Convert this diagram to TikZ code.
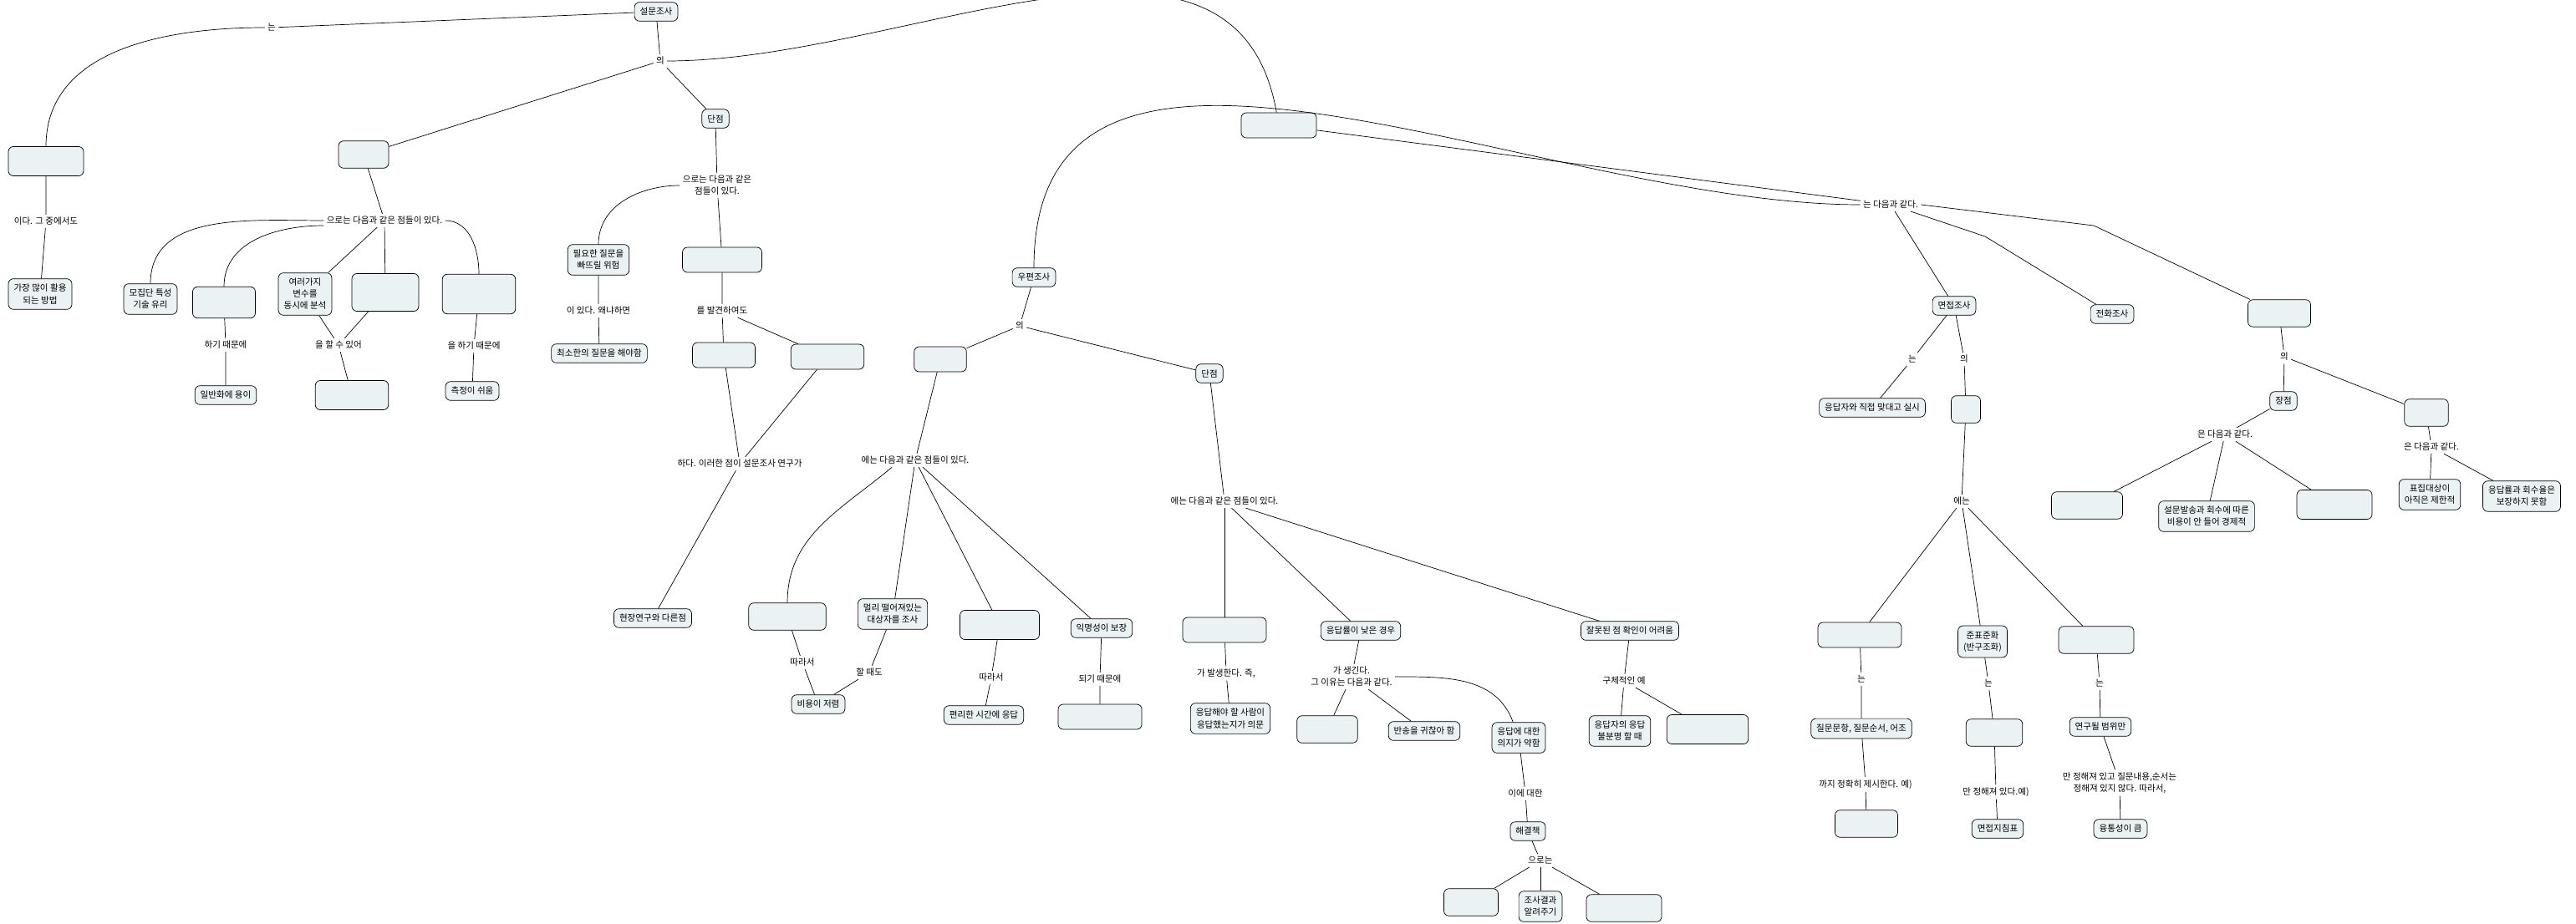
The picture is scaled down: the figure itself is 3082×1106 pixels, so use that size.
\documentclass[tikz,border=0pt]{standalone}
\usepackage{fontspec}
\setmainfont{Noto Sans CJK KR}
\usepackage{xcolor}
\usepackage{tikz}
\definecolor{boxfill}{HTML}{EBF2F4}

\tikzset{
  box/.style={draw, rounded corners=1.2mm, fill=boxfill, align=center, inner sep=1.3mm, font=\fontsize{6}{8}\selectfont},
  lbl/.style={align=center, inner sep=0.6mm, font=\fontsize{6}{8}\selectfont},
  link/.style={draw, thin}
}

\begin{document}
\begin{tikzpicture}[x=0.2mm, y=-0.2mm]
        \useasboundingbox (0,0) rectangle (3082,1106);

        % top level
        \node[box] (root) at (785,14) {설문조사};
        \node[lbl] (is) at (325,33) {는};
        \node[lbl] (of) at (790,73) {의};
        \node[box, minimum width=18mm, minimum height=7mm] (kind) at (55,193) {};
        \node[lbl] (kind-l) at (55,265) {이다. 그 중에서도};
        \node[box] (most) at (48,352) {가장 많이 활용\\되는 방법};
        \draw[link] (root) -- (is) to[out=180, in=90] (kind);
        \draw[link] (kind) -- (kind-l) -- (most);
        \draw[link] (root) -- (of);

        % pros
        \node[box, minimum width=12mm, minimum height=6.5mm] (pro) at (435,185) {};
        \node[lbl] (pro-l) at (460,264) {으로는 다음과 같은 점들이 있다.};
        \node[box] (pop) at (180,358) {모집단 특성\\기술 유리};
        \node[box, minimum width=15mm, minimum height=7.5mm] (pro2) at (268,362) {};
        \node[box] (vars) at (365,352) {여러가지\\변수를\\동시에 분석};
        \node[box, minimum width=16mm, minimum height=9mm] (pro4) at (461,350) {};
        \node[box, minimum width=17.5mm, minimum height=9.5mm] (pro5) at (573,352) {};
        \node[lbl] (pro2-l) at (270,413) {하기 때문에};
        \node[box] (gen) at (270,473) {일반화에 용이};
        \node[lbl] (vars-l) at (405,413) {을 할 수 있어};
        \node[box, minimum width=17.5mm, minimum height=7mm] (pro6) at (421,473) {};
        \node[lbl] (pro5-l) at (567,414) {을 하기 때문에};
        \node[box] (easy) at (565,468) {측정이 쉬움};
        \draw[link] (of) -- (pro) -- (pro-l);
        \draw[link] (pro-l.west) to[out=180, in=90] (pop);
        \draw[link] (pro-l.west) ++(0,6) to[out=180, in=90] (pro2);
        \draw[link] (pro-l) -- (vars);
        \draw[link] (pro-l) -- (pro4);
        \draw[link] (pro-l.east) to[out=0, in=90] (pro5);
        \draw[link] (pro2) -- (pro2-l) -- (gen);
        \draw[link] (vars) -- (vars-l);
        \draw[link] (pro4) -- (vars-l) -- (pro6);
        \draw[link] (pro5) -- (pro5-l) -- (easy);

        % cons
        \node[box] (con) at (856,142) {단점};
        \node[lbl] (con-l) at (858,222) {으로는 다음과 같은\\점들이 있다.};
        \node[box] (miss) at (716,311) {필요한 질문을\\빠뜨릴 위험};
        \node[box, minimum width=19mm, minimum height=6mm] (con2) at (864,311) {};
        \node[lbl] (miss-l) at (716,372) {이 있다. 왜냐하면};
        \node[box] (min) at (717,423) {최소한의 질문을 해야함};
        \node[lbl] (con2-l) at (864,372) {를 발견하여도};
        \node[box, minimum width=15mm, minimum height=6mm] (con3) at (866,425) {};
        \node[box, minimum width=17.5mm, minimum height=6mm] (con4) at (990,427) {};
        \node[lbl] (diff-l) at (885,555) {하다. 이러한 점이 설문조사 연구가};
        \node[box] (diff) at (781,740) {현장연구와 다른점};
        \draw[link] (of) -- (con) -- (con-l);
        \draw[link] (con-l.west) to[out=180, in=90] (miss);
        \draw[link] (con-l) -- (con2);
        \draw[link] (miss) -- (miss-l) -- (min);
        \draw[link] (con2) -- (con2-l) -- (con3);
        \draw[link] (con2-l) -- (con4);
        \draw[link] (con3) -- (diff-l);
        \draw[link] (con4) -- (diff-l) -- (diff);

        % types
        \node[box, minimum width=18mm, minimum height=6mm] (type) at (1530,150) {};
        \node[lbl] (type-l) at (2262,245) {는 다음과 같다.};
        \draw[link] (of.east) to[out=0, in=100] (type);
        \draw[link] (type) -- (type-l);

        % mail survey
        \node[box] (mail) at (1237,332) {우편조사};
        \node[lbl] (mail-l) at (1220,390) {의};
        \node[box, minimum width=12.5mm, minimum height=6mm] (mpro) at (1125,430) {};
        \node[box] (mcon) at (1447,447) {단점};
        \draw[link] (type-l.west) to[out=180, in=90] (mail);
        \draw[link] (mail) -- (mail-l) -- (mpro);
        \draw[link] (mail-l) -- (mcon);

        \node[lbl] (mpro-l) at (1095,551) {에는 다음과 같은 점들이 있다.};
        \node[box, minimum width=18.5mm, minimum height=6.5mm] (mp1) at (942,738) {};
        \node[box] (far) at (1068,735) {멀리 떨어져있는\\대상자를 조사};
        \node[box, minimum width=19mm, minimum height=7mm] (mp3) at (1196,748) {};
        \node[box] (anon) at (1318,752) {익명성이 보장};
        \node[lbl] (mp1-l) at (960,793) {따라서};
        \node[lbl] (far-l) at (1040,805) {할 때도};
        \node[box] (cheap) at (979,843) {비용이 저렴};
        \node[lbl] (mp3-l) at (1186,811) {따라서};
        \node[box] (conv) at (1177,856) {편리한 시간에 응답};
        \node[lbl] (anon-l) at (1316,813) {되기 때문에};
        \node[box, minimum width=20mm, minimum height=6mm] (mp5) at (1316,858) {};
        \draw[link] (mpro) -- (mpro-l);
        \draw[link] (mpro-l.south west) ++(40,0) to[out=220, in=90] (mp1);
        \draw[link] (mpro-l) -- (far);
        \draw[link] (mpro-l) -- (mp3);
        \draw[link] (mpro-l) -- (anon);
        \draw[link] (mp1) -- (mp1-l) -- (cheap);
        \draw[link] (far) -- (far-l) -- (cheap);
        \draw[link] (mp3) -- (mp3-l) -- (conv);
        \draw[link] (anon) -- (anon-l) -- (mp5);

        \node[lbl] (mcon-l) at (1465,600) {에는 다음과 같은 점들이 있다.};
        \node[box, minimum width=20mm, minimum height=6mm] (mc1) at (1465,754) {};
        \node[box] (low) at (1628,755) {응답률이 낮은 경우};
        \node[box] (wrong) at (1950,755) {잘못된 점 확인이 어려움};
        \node[lbl] (mc1-l) at (1467,806) {가 발생한다. 즉,};
        \node[box] (who) at (1472,860) {응답해야 할 사람이\\응답했는지가 의문};
        \node[lbl] (low-l) at (1617,810) {가 생긴다.\\그 이유는 다음과 같다.};
        \node[box, minimum width=14.5mm, minimum height=6.5mm] (lw1) at (1588,873) {};
        \node[box] (bother) at (1704,875) {반송을 귀찮아 함};
        \node[box] (will) at (1817,883) {응답에 대한\\의지가 약함};
        \node[lbl] (will-l) at (1825,950) {이에 대한};
        \node[box] (sol) at (1828,995) {해결책};
        \node[lbl] (sol-l) at (1843,1030) {으로는};
        \node[box, minimum width=13mm, minimum height=6.5mm] (sl1) at (1760,1080) {};
        \node[box] (tell) at (1843,1085) {조사결과\\알려주기};
        \node[box, minimum width=18mm, minimum height=6.5mm] (sl3) at (1943,1087) {};
        \node[lbl] (wrong-l) at (1943,815) {구체적인 예};
        \node[box] (vague) at (1938,875) {응답자의 응답\\불분명 할 때};
        \node[box, minimum width=19.5mm, minimum height=7mm] (wr2) at (2043,873) {};
        \draw[link] (mcon) -- (mcon-l);
        \draw[link] (mcon-l) -- (mc1);
        \draw[link] (mcon-l) -- (low);
        \draw[link] (mcon-l) -- (wrong);
        \draw[link] (mc1) -- (mc1-l) -- (who);
        \draw[link] (low) -- (low-l) -- (lw1);
        \draw[link] (low-l) -- (bother);
        \draw[link] (low-l.east) to[out=0, in=110] (will);
        \draw[link] (will) -- (will-l) -- (sol) -- (sol-l);
        \draw[link] (sol-l) -- (sl1);
        \draw[link] (sol-l) -- (tell);
        \draw[link] (sol-l) -- (sl3);
        \draw[link] (wrong) -- (wrong-l) -- (vague);
        \draw[link] (wrong-l) -- (wr2);

        % interview survey
        \node[box] (meet) at (2338,366) {면접조사};
        \node[lbl] (meet-l1) at (2288,430) {는};
        \node[box] (face) at (2240,488) {응답자와 직접 맞대고 실시};
        \node[lbl] (meet-l2) at (2350,430) {의};
        \node[box, minimum width=7mm, minimum height=6.5mm] (mkind) at (2352,490) {};
        \node[lbl] (mkind-l) at (2347,600) {에는};
        \node[box, minimum width=20mm, minimum height=6mm] (std) at (2225,760) {};
        \node[box] (semi) at (2372,768) {준표준화\\(반구조화)};
        \node[box, minimum width=18mm, minimum height=6.5mm] (open) at (2508,766) {};
        \node[lbl] (std-l) at (2227,813) {는};
        \node[box] (order) at (2227,872) {질문문항, 질문순서, 어조};
        \node[lbl] (order-l) at (2232,939) {까지 정확히 제시한다. 예)};
        \node[box, minimum width=15mm, minimum height=6.5mm] (std2) at (2233,986) {};
        \node[lbl] (semi-l) at (2379,818) {는};
        \node[box, minimum width=13.5mm, minimum height=6.5mm] (semi2) at (2386,877) {};
        \node[lbl] (semi2-l) at (2388,948) {만 정해져 있다.예)};
        \node[box] (guide) at (2390,992) {면접지침표};
        \node[lbl] (open-l) at (2512,818) {는};
        \node[box] (range) at (2513,870) {연구될 범위만};
        \node[lbl] (range-l) at (2536,937) {만 정해져 있고 질문내용,순서는\\정해져 있지 않다. 따라서,};
        \node[box] (flex) at (2537,992) {융통성이 큼};
        \draw[link] (type-l) -- (meet);
        \draw[link] (meet) -- (meet-l1) -- (face);
        \draw[link] (meet) -- (meet-l2) -- (mkind) -- (mkind-l);
        \draw[link] (mkind-l) -- (std);
        \draw[link] (mkind-l) -- (semi);
        \draw[link] (mkind-l) -- (open);
        \draw[link] (std) -- (std-l) -- (order) -- (order-l) -- (std2);
        \draw[link] (semi) -- (semi-l) -- (semi2) -- (semi2-l) -- (guide);
        \draw[link] (open) -- (open-l) -- (range) -- (range-l) -- (flex);

        % phone and online
        \node[box] (phone) at (2527,376) {전화조사};
        \node[box, minimum width=15mm, minimum height=6.5mm] (web) at (2727,375) {};
        \node[lbl] (web-l) at (2733,427) {의};
        \node[box] (wpro) at (2732,480) {장점};
        \node[box, minimum width=10.5mm, minimum height=6.5mm] (wcon) at (2903,494) {};
        \draw[link] (type-l) -- (2375,283) -- (phone);
        \draw[link] (type-l.east) -- (2505,270) -- (web);
        \draw[link] (web) -- (web-l) -- (wpro);
        \draw[link] (web-l) -- (wcon);

        \node[lbl] (wpro-l) at (2662,520) {은 다음과 같다.};
        \node[box, minimum width=17mm, minimum height=6.5mm] (wp1) at (2497,605) {};
        \node[box] (econ) at (2640,618) {설문발송과 회수에 따른\\비용이 안 들어 경제적};
        \node[box, minimum width=18mm, minimum height=7mm] (wp3) at (2793,604) {};
        \node[lbl] (wcon-l) at (2909,535) {은 다음과 같다.};
        \node[box] (limit) at (2907,592) {표집대상이\\아직은 제한적};
        \node[box] (rate) at (3017,594) {응답률과 회수율은\\보장하지 못함};
        \draw[link] (wpro) -- (wpro-l);
        \draw[link] (wpro-l) -- (wp1);
        \draw[link] (wpro-l) -- (econ);
        \draw[link] (wpro-l) -- (wp3);
        \draw[link] (wcon) -- (wcon-l) -- (limit);
        \draw[link] (wcon-l) -- (rate);
\end{tikzpicture}
\end{document}
